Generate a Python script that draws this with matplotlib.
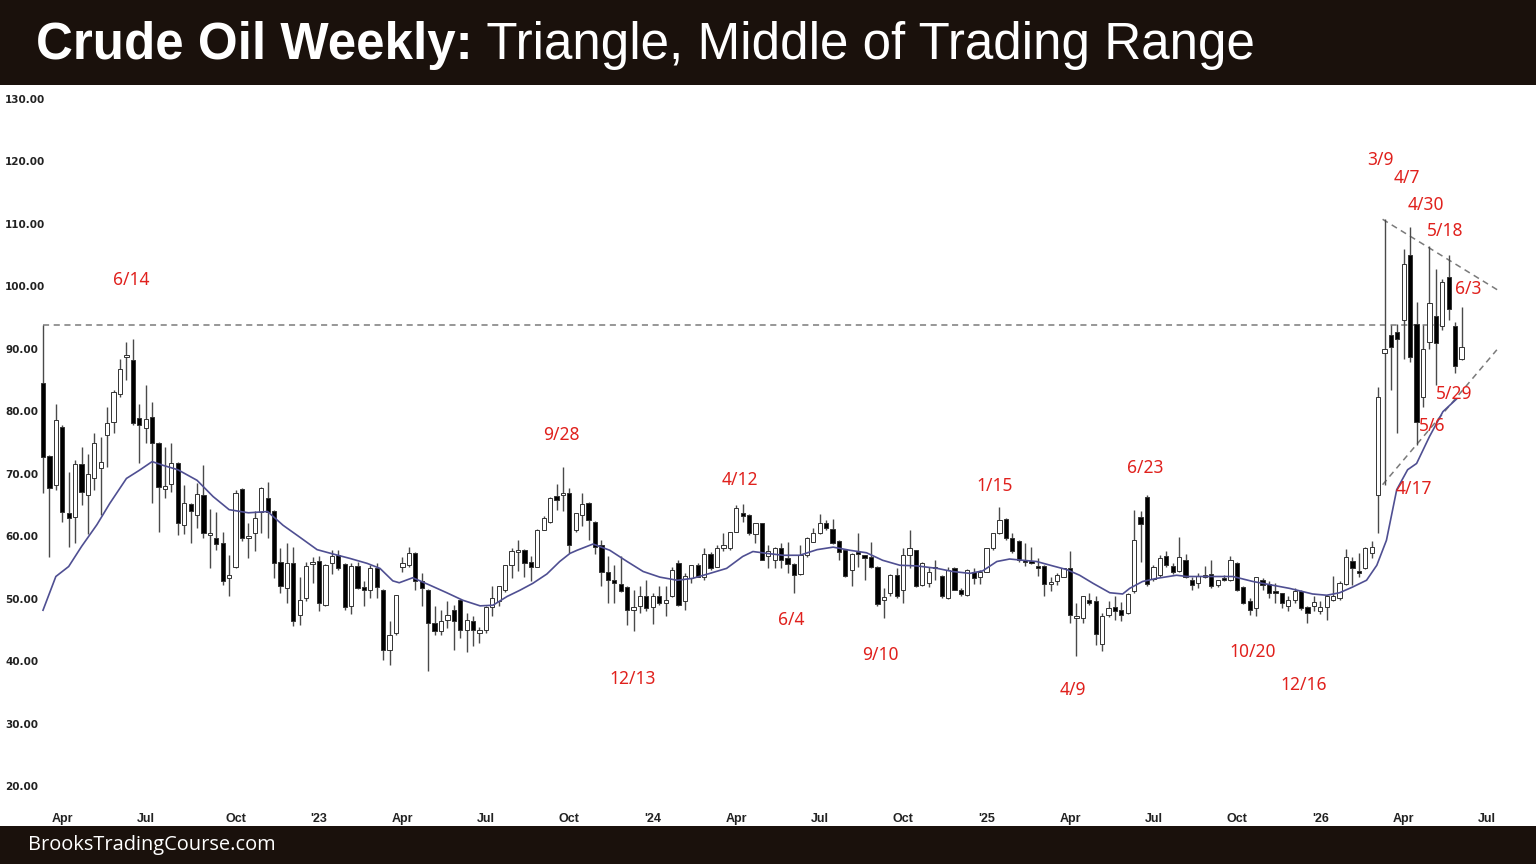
import matplotlib
matplotlib.use('Agg')
import matplotlib.pyplot as plt
from matplotlib.patches import Rectangle
from matplotlib.transforms import blended_transform_factory

# weekly candles (index 0 = mid March 2022)
opens = [84.7, 73.0, 68.4, 77.7, 63.8, 63.2, 71.7, 66.7, 69.4, 71.0,
         76.4, 78.5, 83.0, 88.8, 88.3, 79.1, 77.5, 79.2, 75.1, 67.7,
         68.5, 71.8, 62.0, 65.3, 63.5, 66.7, 60.4, 59.9, 59.0, 53.4,
         55.2, 67.7, 59.8, 60.6, 64.1, 66.2, 64.2, 56.1, 51.8, 55.8,
         47.5, 50.2, 55.7, 56.2, 49.1, 55.8, 57.1, 55.7, 48.9, 55.4,
         52.0, 51.5, 55.0, 51.6, 41.9, 44.6, 55.2, 55.5, 57.5, 53.0,
         51.6, 46.3, 44.9, 46.7, 48.3, 50.0, 45.1, 46.5, 44.7, 45.2,
         48.8, 49.7, 51.5, 55.5, 57.7, 58.0, 56.1, 55.3, 61.2, 62.5,
         66.6, 66.8, 67.0, 61.1, 63.5, 65.4, 62.5, 58.7, 54.5, 53.1,
         52.5, 52.0, 48.4, 48.9, 50.5, 48.8, 50.5, 49.5, 50.5, 55.8,
         49.7, 53.4, 55.5, 53.7, 57.3, 55.3, 58.3, 58.2, 60.9, 63.8,
         63.5, 60.5, 62.2, 57.0, 56.3, 58.2, 56.6, 55.7, 54.1, 57.1,
         59.3, 60.6, 62.3, 61.3, 59.4, 57.9, 54.7, 57.7, 57.1, 56.9,
         55.3, 49.9, 51.0, 53.9, 51.6, 57.1, 57.9, 52.3, 52.6, 55.0,
         53.8, 50.2, 55.0, 51.6, 50.7, 54.5, 53.6, 54.5, 58.2, 60.6,
         62.9, 59.8, 59.4, 56.3, 56.2, 55.3, 55.4, 52.5, 52.9, 53.7,
         55.0, 47.0, 47.0, 49.9, 49.7, 42.9, 47.5, 48.8, 48.4, 47.8,
         51.3, 63.2, 66.4, 53.3, 53.9, 57.0, 55.4, 54.6, 56.4, 53.1,
         52.6, 53.7, 54.1, 52.3, 53.4, 53.1, 55.8, 52.0, 49.8, 48.6,
         53.1, 52.5, 51.3, 51.0, 49.0, 49.9, 51.3, 48.8, 49.0, 48.2,
         48.8, 49.9, 50.2, 52.5, 56.2, 54.5, 55.0, 57.4, 66.8, 89.5,
         92.4, 92.8, 94.8, 105.2, 94.1, 82.5, 91.3, 95.4, 93.8, 101.7,
         93.8, 88.5]
highs = [94.0, 73.2, 81.4, 77.9, 70.5, 72.3, 74.5, 73.3, 76.6, 76.0,
         80.8, 83.5, 88.5, 91.3, 91.7, 81.4, 84.4, 81.7, 75.3, 74.4,
         75.1, 72.0, 68.4, 65.4, 68.6, 71.6, 64.5, 64.1, 60.9, 57.1,
         67.5, 67.8, 62.3, 64.2, 68.0, 68.9, 64.3, 58.2, 59.0, 58.5,
         53.6, 56.1, 56.9, 57.0, 55.7, 58.0, 58.0, 55.8, 55.8, 56.1,
         52.9, 55.5, 55.8, 51.7, 46.6, 50.7, 56.8, 58.5, 57.6, 54.2,
         51.7, 48.9, 48.4, 49.7, 49.1, 50.1, 47.8, 47.3, 45.6, 48.9,
         52.1, 52.2, 55.6, 58.2, 59.6, 58.1, 57.0, 61.3, 63.4, 66.5,
         68.5, 71.2, 67.8, 63.9, 67.0, 65.6, 62.6, 59.5, 57.0, 55.5,
         57.0, 52.1, 51.5, 52.1, 53.1, 51.0, 52.2, 52.2, 55.3, 56.3,
         54.2, 55.6, 55.9, 58.2, 57.7, 58.7, 60.6, 60.9, 65.1, 65.3,
         63.7, 62.3, 62.3, 58.7, 58.5, 59.0, 59.3, 55.8, 58.7, 60.1,
         61.4, 63.7, 62.7, 62.9, 59.6, 58.0, 57.4, 60.7, 57.2, 59.3,
         55.4, 51.8, 54.1, 55.0, 58.2, 61.1, 58.0, 56.0, 55.2, 56.3,
         54.0, 55.3, 55.3, 51.9, 54.9, 55.0, 54.7, 58.3, 60.6, 64.9,
         63.0, 60.6, 59.5, 59.0, 58.5, 56.6, 55.6, 53.6, 54.2, 55.1,
         57.8, 49.4, 50.6, 51.1, 50.5, 47.8, 49.7, 50.5, 49.6, 51.1,
         64.3, 64.2, 66.7, 55.6, 57.1, 57.8, 55.8, 60.0, 57.3, 53.6,
         54.3, 55.4, 56.3, 53.2, 53.9, 57.0, 56.1, 52.2, 50.2, 53.7,
         53.4, 52.9, 52.6, 51.1, 50.6, 51.8, 51.6, 49.0, 50.5, 49.7,
         50.8, 53.8, 53.0, 58.1, 56.9, 57.5, 58.5, 59.4, 84.1, 110.9,
         94.0, 94.1, 106.1, 109.7, 97.7, 94.0, 106.6, 103.0, 101.4, 105.2,
         94.5, 96.9]
lows = [67.1, 56.9, 67.6, 62.5, 58.5, 59.1, 65.1, 60.5, 67.6, 63.5,
        71.3, 76.6, 82.4, 85.2, 78.0, 71.8, 75.0, 65.5, 60.9, 66.2,
        67.3, 60.3, 60.5, 59.1, 61.4, 59.8, 55.0, 57.9, 52.3, 50.5,
        55.1, 59.4, 56.6, 57.8, 60.7, 59.8, 53.4, 51.1, 49.4, 45.8,
        45.9, 49.7, 52.6, 48.1, 48.9, 54.1, 54.8, 48.4, 47.7, 51.7,
        49.0, 50.2, 50.2, 40.3, 39.5, 44.4, 54.5, 55.3, 51.6, 49.0,
        38.6, 44.3, 44.3, 45.4, 41.9, 43.8, 41.6, 42.5, 43.0, 44.6,
        47.3, 48.9, 51.2, 53.4, 54.6, 53.7, 52.9, 55.2, 61.1, 62.2,
        64.3, 64.2, 57.4, 60.9, 61.8, 59.5, 57.3, 52.1, 49.5, 49.4,
        51.2, 45.9, 44.9, 47.8, 48.1, 46.1, 49.1, 47.3, 50.4, 49.0,
        48.3, 52.6, 53.6, 53.1, 54.7, 55.2, 57.8, 58.0, 60.8, 62.5,
        60.3, 59.0, 56.3, 55.0, 55.0, 55.0, 54.2, 51.0, 54.0, 56.9,
        59.2, 60.5, 61.2, 58.9, 56.3, 53.6, 52.1, 55.3, 53.1, 55.1,
        48.9, 47.0, 50.5, 50.2, 49.4, 55.0, 52.0, 52.1, 52.0, 53.1,
        50.3, 50.1, 51.5, 50.6, 50.6, 52.5, 52.5, 54.4, 58.0, 60.5,
        59.6, 57.5, 56.1, 55.4, 55.7, 53.8, 50.6, 51.3, 52.4, 53.6,
        46.2, 40.9, 46.2, 49.2, 42.7, 41.7, 47.2, 46.7, 46.5, 47.7,
        51.1, 56.1, 52.2, 53.0, 53.6, 55.2, 54.1, 54.4, 53.4, 51.5,
        51.8, 53.4, 51.8, 52.0, 53.0, 53.0, 51.4, 49.3, 47.5, 47.3,
        51.5, 50.2, 49.4, 48.6, 48.2, 49.5, 48.4, 46.3, 48.1, 47.7,
        46.8, 49.8, 50.0, 52.4, 52.3, 53.7, 54.9, 56.6, 60.6, 68.4,
        83.6, 76.6, 88.6, 88.0, 74.8, 80.9, 90.2, 84.4, 93.2, 94.8,
        86.3, 88.3]
closes = [72.8, 67.8, 78.8, 64.1, 63.0, 71.7, 67.3, 70.1, 75.0, 72.0,
          78.3, 83.3, 86.9, 89.1, 78.2, 78.0, 78.9, 75.0, 68.0, 68.2,
          71.8, 62.3, 65.5, 64.2, 66.9, 60.7, 60.6, 58.9, 53.0, 53.9,
          67.0, 59.8, 60.2, 63.0, 67.8, 64.1, 55.8, 52.1, 55.8, 46.6,
          50.0, 55.4, 56.1, 49.4, 55.6, 57.0, 55.0, 48.8, 55.4, 51.8,
          51.6, 55.0, 52.0, 41.9, 44.3, 50.7, 55.8, 57.4, 52.9, 51.8,
          46.3, 45.0, 46.6, 47.5, 46.6, 45.1, 46.7, 45.2, 45.2, 48.8,
          50.2, 52.1, 55.5, 57.8, 58.0, 55.8, 55.2, 61.2, 63.0, 66.2,
          66.0, 67.0, 58.7, 63.8, 65.3, 62.7, 58.5, 54.5, 53.1, 52.7,
          51.3, 48.3, 48.8, 50.5, 48.6, 50.6, 49.5, 50.0, 54.8, 49.1,
          53.8, 55.5, 53.7, 57.3, 55.0, 58.2, 58.8, 60.9, 64.6, 63.4,
          60.6, 62.2, 56.3, 57.8, 58.2, 56.3, 55.7, 53.9, 57.1, 59.8,
          60.6, 62.3, 61.4, 59.0, 57.7, 53.8, 57.3, 57.3, 56.6, 55.2,
          49.3, 50.4, 53.9, 50.6, 57.1, 58.2, 52.1, 55.8, 54.5, 55.3,
          50.5, 54.8, 51.6, 50.9, 54.8, 53.4, 54.5, 58.2, 60.6, 62.7,
          59.8, 57.8, 56.3, 56.1, 55.8, 55.1, 52.5, 52.8, 53.9, 55.0,
          47.5, 47.4, 50.5, 49.4, 44.5, 47.4, 48.6, 48.2, 47.5, 50.9,
          59.6, 62.1, 52.5, 55.2, 56.6, 55.5, 54.5, 56.8, 53.6, 52.3,
          53.8, 53.9, 52.2, 53.1, 53.1, 56.3, 51.5, 49.5, 48.3, 53.7,
          52.3, 51.1, 51.0, 49.4, 49.9, 51.4, 48.6, 47.9, 49.6, 48.8,
          50.6, 50.6, 52.7, 56.8, 55.0, 54.3, 58.2, 58.4, 82.4, 90.1,
          90.4, 91.8, 103.7, 88.9, 78.5, 90.1, 97.5, 91.1, 100.9, 96.6,
          87.4, 90.5]

# 20-week moving average, sampled from the blue line (week index, price)
ma_week = [0, 2, 4, 6, 8.4, 10.4, 13, 15, 17, 18.7, 21, 24, 26.5, 29, 32, 35,
           37.4, 40, 42.7, 45.2, 47.8, 50.5, 52.5, 54.5, 55.5, 57.6, 60.3,
           62.9, 65.4, 68.1, 70.1, 72.3, 74.3, 76.3, 78.5, 80.5, 82.1, 83.2,
           85.7, 88.3, 91, 93.5, 96.1, 98.8, 101.2, 103.9, 106.5, 109, 110.6,
           112.8, 115.3, 117.9, 120.6, 123.1, 125.7, 128.3, 130.8, 133.5,
           136.1, 139.3, 141.7, 144.4, 146.4, 148.6, 150.6, 152.6, 154.8,
           157.3, 159.5, 161.5, 163.6, 166.2, 168.2, 169.3, 171.3, 173.5,
           176.6, 178.2, 185.4, 188.5, 191.6, 194.2, 197.8, 200, 202, 204,
           206.2, 207.8, 209.3, 210.9, 212.6, 214, 216, 218.1, 220.2]
ma_value = [48.3, 53.7, 55.3, 58.5, 62.0, 65.4, 69.4, 70.7, 72.1, 71.5, 70.8,
            69.1, 66.5, 64.4, 63.9, 64.1, 61.9, 60.0, 58.0, 57.3, 56.6, 55.8,
            55.0, 53.0, 52.7, 53.5, 52.3, 51.1, 49.9, 49.0, 49.1, 50.5, 51.5,
            52.6, 54.1, 56.1, 57.4, 57.9, 58.9, 57.9, 56.1, 54.5, 53.6, 53.1,
            53.4, 54.2, 55.0, 56.9, 57.7, 57.4, 57.1, 57.1, 58.0, 58.4, 57.9,
            57.5, 56.3, 55.5, 55.4, 55.0, 54.5, 54.2, 54.6, 56.1, 56.5, 56.3,
            56.1, 55.4, 54.8, 53.9, 52.6, 51.1, 50.9, 51.8, 52.9, 53.4, 53.9,
            53.7, 53.7, 52.9, 52.3, 51.8, 50.9, 50.7, 51.1, 52.0, 53.1, 55.5,
            59.5, 67.6, 70.8, 71.8, 76.1, 80.1, 82.1]

# dashed reference lines (week index, price)
range_top = 94.0
range_top_weeks = [0, 218]
tri_upper_weeks = [208.7, 226.9]
tri_upper_price = [110.9, 99.4]
tri_lower_weeks = [208.7, 226.5]
tri_lower_price = [68.4, 90.0]

# red swing labels (text, week index, price)
swing_text = ["6/14", "9/28", "12/13", "4/12", "6/4", "9/10", "1/15", "6/23",
              "4/9", "10/20", "12/16", "3/9", "4/7", "4/30", "5/18", "6/3",
              "5/29", "5/6", "4/17"]
swing_week = [13.7, 80.8, 91.9, 108.6, 116.5, 130.5, 148.3, 171.7, 160.4,
              188.5, 196.4, 208.3, 212.5, 215.4, 218.5, 222.0, 219.8, 216.5,
              213.5]
swing_price = [101.2, 76.4, 37.3, 69.2, 46.7, 41.1, 68.2, 71.1, 35.5, 41.6,
               36.3, 120.4, 117.5, 113.2, 109.0, 99.7, 82.9, 77.8, 67.7]

month_labels = ["Apr", "Jul", "Oct", "'23", "Apr", "Jul", "Oct", "'24", "Apr",
                "Jul", "Oct", "'25", "Apr", "Jul", "Oct", "'26", "Apr", "Jul"]
month_weeks = [3, 16, 30, 43, 56, 69, 82, 95, 108, 121, 134, 147, 160, 173,
               186, 199, 212, 225]
price_levels = [130, 120, 110, 100, 90, 80, 70, 60, 50, 40, 30, 20]

W, H = 1536, 864
fig = plt.figure(figsize=(W / 100, H / 100), dpi=100)
fig.patch.set_facecolor('white')

band = '#1a110c'
fig.patches.append(Rectangle((0, 1 - 85 / H), 1, 85 / H, transform=fig.transFigure,
                             facecolor=band, edgecolor='none', zorder=0))
fig.patches.append(Rectangle((0, 0), 1, 38 / H, transform=fig.transFigure,
                             facecolor=band, edgecolor='none', zorder=0))

ax = fig.add_axes([0, 38 / H, 1, (826 - 85) / H])
ax.set_xlim(-6.7, 232.6)
ax.set_ylim(13.75, 132.4)
ax.set_axis_off()

weeks = list(range(len(opens)))

# wicks
ax.vlines(weeks, lows, highs, color='#4a4a4a', linewidth=1.0, zorder=3)

# bodies
bottoms, heights, faces = [], [], []
for o, c in zip(opens, closes):
    lo, hi = min(o, c), max(o, c)
    if hi - lo < 0.3:
        hi = lo + 0.3
    bottoms.append(lo)
    heights.append(hi - lo)
    faces.append('black' if c < o else 'white')
ax.bar(weeks, heights, bottom=bottoms, width=0.66, color=faces,
       edgecolor='#333333', linewidth=0.7, zorder=4)

# moving average
ax.plot(ma_week, ma_value, color='#4f4f92', linewidth=1.2, zorder=5)

# dashed lines
dash = dict(color='#7a7a7a', linewidth=1.1, linestyle=(0, (4, 3)), zorder=2)
ax.plot(range_top_weeks, [range_top, range_top], **dash)
ax.plot(tri_upper_weeks, tri_upper_price, **dash)
ax.plot(tri_lower_weeks, tri_lower_price, **dash)

# swing labels
for t, wk, pr in zip(swing_text, swing_week, swing_price):
    ax.text(wk, pr, t, color='#e0211d', fontsize=12.5, family='Noto Sans',
            ha='center', va='center', zorder=6)

# price axis labels inside the plot
ytr = blended_transform_factory(ax.transAxes, ax.transData)
for lv in price_levels:
    ax.text(5 / W, lv, f"{lv:.2f}", transform=ytr, fontsize=7.5,
            fontweight='bold', color='#222222', ha='left', va='center',
            family='DejaVu Sans')

# month labels along the bottom
xtr = blended_transform_factory(ax.transData, ax.transAxes)
for lab, wk in zip(month_labels, month_weeks):
    ax.text(wk, 7 / 741, lab, transform=xtr, fontsize=9, fontweight='bold',
            color='#222222', ha='center', va='center', stretch='condensed',
            family=['Liberation Sans Narrow', 'Liberation Sans', 'DejaVu Sans'])

# title in two weights
renderer = fig.canvas.get_renderer()
t1 = fig.text(36 / W, 1 - 45 / H, "Crude Oil Weekly:", color='white', fontsize=36.8,
              fontweight='bold', family='Liberation Sans', ha='left', va='center')
bb = t1.get_window_extent(renderer)
fig.text(bb.x1 / W, 1 - 45 / H, " Triangle, Middle of Trading Range", color='white',
         fontsize=36.8, family='Liberation Sans', ha='left', va='center')

fig.text(28 / W, 19 / H, "BrooksTradingCourse.com", color='white', fontsize=14.4,
         family='Open Sans', ha='left', va='center')

fig.savefig('out.png', dpi=100, facecolor='white')
